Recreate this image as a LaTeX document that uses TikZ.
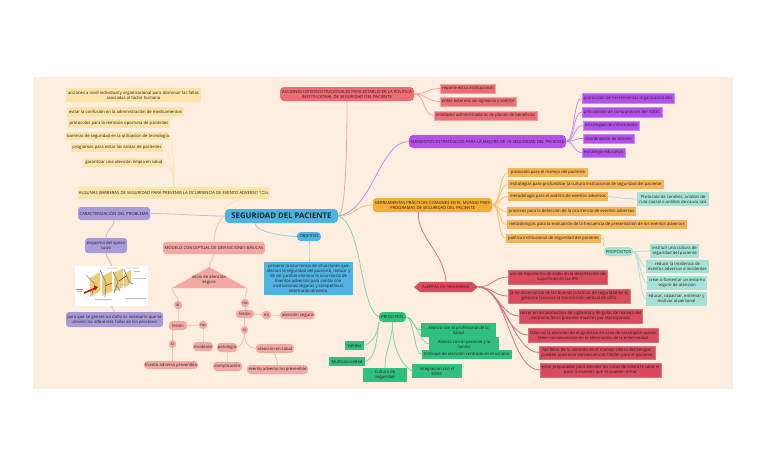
\documentclass[tikz,border=0pt]{standalone}
\usepackage{fontspec}
\setmainfont{Open Sans}
\usepackage{xcolor}
\definecolor{bgc}{HTML}{FEEEDF}
\definecolor{yel}{HTML}{FDE3A7}
\definecolor{yell}{HTML}{FBE6AE}
\definecolor{pur}{HTML}{A99BD9}
\definecolor{purl}{HTML}{CDB7DC}
\definecolor{rt}{HTML}{4CB4DF}
\definecolor{sal}{HTML}{F4A8A3}
\definecolor{sall}{HTML}{F2BDB4}
\definecolor{redb}{HTML}{EE6C73}
\definecolor{redl}{HTML}{EFA6A2}
\definecolor{vio}{HTML}{B650EC}
\definecolor{viol}{HTML}{C48BEE}
\definecolor{ora}{HTML}{F6AE32}
\definecolor{oral}{HTML}{F2BF70}
\definecolor{orb}{HTML}{F4B557}
\definecolor{tea}{HTML}{A5E2D6}
\definecolor{teal2}{HTML}{A9E2D6}
\definecolor{crim}{HTML}{D94A5D}
\definecolor{criml}{HTML}{D9707F}
\definecolor{gre}{HTML}{2FC07F}
\definecolor{grel}{HTML}{7FD5A5}
\definecolor{sky}{HTML}{4FB3E3}
\definecolor{skyl}{HTML}{9CCFE0}
\definecolor{txt}{HTML}{222222}
\definecolor{chs}{HTML}{E8CE6E}
\definecolor{chb}{HTML}{7C83B8}
\tikzset{
  base/.style={inner sep=0pt,outer sep=0pt,align=center,text=txt,font=\fontsize{4.2}{5}\selectfont},
  ybox/.style={base,fill=yel},
  pbox/.style={base,fill=pur,rounded corners=3pt},
  sbox/.style={base,fill=sal,rounded corners=3pt},
  spill/.style={base,fill=sal,rounded corners=3.5pt},
  rbox/.style={base,fill=redb,rounded corners=4pt},
  rsub/.style={base,fill=redb,draw=redl,line width=.6pt},
  vmain/.style={base,fill=vio,rounded corners=4pt},
  vsub/.style={base,fill=vio,draw=viol,line width=.6pt},
  omain/.style={base,fill=ora,rounded corners=3pt},
  osub/.style={base,fill=orb},
  tmain/.style={base,fill=tea,rounded corners=4pt},
  tsub/.style={base,fill=tea},
  csub/.style={base,fill=crim,draw=criml,line width=.6pt},
  gmain/.style={base,fill=gre,rounded corners=4pt},
  gsub/.style={base,fill=gre},
  sky1/.style={base,fill=sky,rounded corners=4pt},
  sky2/.style={base,fill=sky},
  lnY/.style={draw=yell,line width=.8pt},
  lnP/.style={draw=purl,line width=.8pt},
  lnS/.style={draw=sall,line width=.8pt},
  lnR/.style={draw=redl,line width=.8pt},
  lnV/.style={draw=viol,line width=.8pt},
  lnO/.style={draw=oral,line width=.8pt},
  lnT/.style={draw=teal2,line width=.8pt},
  lnC/.style={draw=criml,line width=.8pt},
  lnG/.style={draw=grel,line width=.8pt},
  lnB/.style={draw=skyl,line width=.8pt},
}
\newcommand\bx[7]{%
  \pgfmathsetmacro\mycx{(#2+#4)/2}\pgfmathsetmacro\mycy{(#3+#5)/2}%
  \pgfmathsetmacro\myw{#4-#2}\pgfmathsetmacro\myh{#5-#3}%
  \node[#6,minimum width=\myw pt,minimum height=\myh pt] (#1) at (\mycx,\mycy) {#7};}
\newcommand\hc[4]{\draw[#1] (#2) .. controls +(#4,0) and +(-#4,0) .. (#3);}
\newcommand\vc[4]{\draw[#1] (#2) .. controls +(0,#4) and +(0,-#4) .. (#3);}
\newcommand\vh[5]{\draw[#1] (#2) .. controls +(0,#3) and +(#4,0) .. (#5);}
\begin{document}
\begin{tikzpicture}[x=1pt,y=-1pt]
\useasboundingbox (0,0) rectangle (768,466);
\fill[white] (0,0) rectangle (768,466);
\fill[bgc] (33,77) rectangle (733,389);

% Yellow branch
\bx{a1}{66}{88}{201}{102}{ybox}{acciones a nivel individual y organizacional para disminuir las fallas\\asociadas al factor humano}
\bx{a2}{67}{107}{184}{117}{ybox}{evitar la confusión en la administración de medicamentos}
\bx{a3}{68}{119}{170}{128}{ybox}{protocolos para la remisión oportuna de pacientes}
\bx{a4}{66}{132}{170}{140}{ybox}{barreras de seguridad en la utilización de tecnología}
\bx{a5}{71}{143}{163}{152}{ybox}{programas para evitar las caídas de pacientes}
\bx{a6}{84}{158}{164}{167}{ybox}{garantizar una atención limpia en salud}
\bx{alg}{78}{187}{269}{199}{ybox}{ALGUNAS BARRERAS DE SEGURIDAD PARA PREVENIR LA OCURRENCIA DE EVENTO ADVERSO SON}
\coordinate (algt) at (174,187);

% Root
\bx{root}{225}{209}{338}{223}{base,fill=rt,rounded corners=4pt,font=\fontsize{7.8}{8}\selectfont\bfseries}{SEGURIDAD DEL PACIENTE}

% Purple
\bx{car}{78}{207}{150}{220}{pbox}{CARACTERIZACIÓN DEL PROBLEMA}
\bx{esq}{85}{238}{127}{253}{pbox}{esquema del queso\\suizo}
\bx{pq}{66}{312}{163}{327}{pbox}{para que se genere un daño es necesario que se\\alineen las diferentes fallas en los procesos}

% Swiss cheese picture
\node[fill=white,inner sep=0pt,outer sep=0pt,minimum width=73pt,minimum height=40pt] (pic) at (111.5,286) {};
\fill[chs] (90,278)--(100,272)--(100,291)--(90,297)--cycle;
\fill[chs] (102,276)--(112,271)--(112,291)--(102,296)--cycle;
\fill[chs] (114,273)--(123,268)--(123,287)--(114,292)--cycle;
\fill[chs] (124,274)--(131,270)--(131,283)--(124,288)--cycle;
\draw[chb,line width=.7pt] (86,275)--(95,284)--(92,294) (100,270)--(106,283)--(105,297) (113,272)--(118,282)--(114,293) (124,269)--(129,282)--(133,284) (120,291)--(116,285);
\draw[red!85!black,line width=1.5pt] (84,293)--(96,288);
\fill[red!85!black] (98,287)--(94,285.5)--(95,290)--cycle;
\draw[red!70!black,line width=.5pt] (105,286)--(112,283) (119,281)--(126,276);
\fill[gray!50] (106,267.5) rectangle (118,268.3) (126,267.5) rectangle (139,268.3) (134,271) rectangle (140,272) (133,278) rectangle (146,278.8) (120,284) rectangle (127,285) (95,299) rectangle (112,300) (125,298) rectangle (146,299) (77,291) rectangle (82,292);
\fill[red!60] (76,289) rectangle (83,290);

% Salmon model
\bx{mod}{163}{242}{265}{254}{sbox}{MODELO CONCEPTUAL DE DEFINICIONES BÁSICAS}
\coordinate (tt) at (209,267);
\coordinate (tl) at (172,288);
\coordinate (tr) at (247,288);
\fill[sal] (tt)--(tl)--(tr)--cycle;
\node[base] (tri) at (209,280) {inicio de atención\\segura};
\bx{sl}{174}{301}{182}{309}{spill}{si}
\bx{nr}{241}{299}{249}{307}{spill}{no}
\bx{lesl}{169}{321}{187}{330}{spill}{lesión}
\bx{nl}{199}{321}{207}{329}{spill}{no}
\bx{sl2}{169}{340}{176}{348}{spill}{si}
\bx{inc}{193}{342}{213}{351}{spill}{incidente}
\bx{evp}{144}{361}{198}{369}{spill}{Evento adverso prevenible}
\bx{lesr}{236}{310}{254}{318}{spill}{lesión}
\bx{nr2}{262}{311}{271}{319}{spill}{no}
\bx{ats}{280}{311}{315}{319}{spill}{atención segura}
\bx{sr}{241}{326}{248}{334}{spill}{si}
\bx{pat}{217}{343}{237}{352}{spill}{patología}
\bx{com}{213}{362}{242}{371}{spill}{complicación}
\bx{ate}{256}{344}{294}{353}{spill}{atención en salud}
\bx{evn}{247}{365}{308}{374}{spill}{evento adverso no prevenible}

% Objective
\bx{obj}{297}{232}{321}{241}{sky1}{OBJETIVO}
\bx{obt}{264}{262}{353}{295}{sky2}{prevenir la ocurrencia de situaciones que\\afectan la seguridad del paciente, reducir y\\de ser posible eliminar la ocurrencia de\\Eventos adversos para contar con\\instituciones seguras y competitivas\\internacionalmente.}

% Red
\bx{acc}{280}{87}{414}{101}{rbox}{ACCIONES INTERINSTITUCIONALES PARA ESTABLECER LA POLÍTICA\\INSTITUCIONAL DE SEGURIDAD DEL PACIENTE}
\bx{r1}{440}{84}{495}{93}{rsub}{reporte extra institucional}
\bx{r2}{440}{97}{516}{106}{rsub}{entes externos de vigilancia y control}
\bx{r3}{434}{111}{537}{120}{rsub}{entidades administradoras de planes de beneficios}

% Violet
\bx{ele}{409}{135}{566}{148}{vmain}{ELEMENTOS ESTRATÉGICOS PARA LA MEJORA DE LA SEGURIDAD DEL PACIENTE}
\bx{v1}{582}{93}{674}{103}{vsub}{promoción de herramientas organizacionales}
\bx{v2}{582}{107}{662}{117}{vsub}{articulación de componentes del SOGC}
\bx{v3}{583}{121}{639}{130}{vsub}{estrategias de información}
\bx{v4}{583}{134}{634}{143}{vsub}{coordinación de actores}
\bx{v5}{582}{148}{625}{157}{vsub}{estrategia educativa}

% Orange
\bx{her}{373}{198}{492}{212}{omain}{HERRAMIENTAS PRÁCTICAS COMUNES EN EL MUNDO PARA\\PROGRAMAS DE SEGURIDAD DEL PACIENTE}
\bx{o1}{508}{168}{588}{177}{osub}{protocolo para el manejo del paciente}
\bx{o2}{508}{180}{664}{189}{osub}{estrategias para profundizar la cultura institucional de seguridad del paciente}
\bx{o3}{508}{192}{608}{201}{osub}{metodología para el análisis de eventos adversos}
\bx{o4}{507}{207}{636}{216}{osub}{procesos para la detección de la ocurrencia de eventos adversos}
\bx{o5}{507}{220}{687}{229}{osub}{metodologías para la evaluación de la frecuencia de presentación de los eventos adversos}
\bx{o6}{506}{234}{601}{243}{osub}{política institucional de seguridad del paciente}
\bx{lon}{637}{192}{709}{206}{tsub}{Protocolo de Londres, análisis de\\ruta causal o análisis de causa raíz}

% Teal
\bx{pro}{604}{247}{633}{256}{tmain}{PROPÓSITOS}
\bx{t1}{650}{244}{699}{258}{tsub}{instituir una cultura de\\seguridad del paciente}
\bx{t2}{646}{260}{709}{273}{tsub}{reducir la incidencia de\\eventos adversos e incidentes}
\bx{t3}{647}{276}{707}{290}{tsub}{crear o fomentar un entorno\\seguro de atención}
\bx{t4}{646}{292}{707}{306}{tsub}{educar, capacitar, entrenar y\\motivar al personal}

% Alerts
\fill[crim] (414,287)--(420,282)--(472,282)--(478,287)--(472,292)--(420,292)--cycle;
\bx{ale}{414}{282}{478}{292}{base}{ALERTAS DE SEGURIDAD}
\bx{c1}{508}{270}{607}{284}{csub}{uso de hipoclorito de sodio en la desinfección de\\superficies en las IPS}
\bx{c2}{508}{289}{630}{303}{csub}{la no observancia de las buenas prácticas de seguridad en la\\gestante favorece la transmisión vertical de sífilis}
\bx{c3}{519}{309}{642}{323}{csub}{correr en los protocolos de vigilancia y de guías de manejo del\\síndrome febril previene muertes por leptospirosis}
\bx{c4}{528}{328}{658}{342}{csub}{fallas en la atención de diagnóstico en caso de sarampión puede\\tener consecuencias en la eliminación de la enfermedad}
\bx{c5}{539}{346}{655}{359}{csub}{las fallas de la atención en el manejo clínico del dengue\\pueden ocasionar consecuencias fatales para el paciente}
\bx{c6}{540}{363}{661}{377}{csub}{estar preparados para atender los casos de cólera le salva el\\paso a muertes que se pueden evitar}

% Green
\bx{pri}{379}{312}{406}{322}{gmain}{PRINCIPIOS}
\bx{g1}{421}{323}{496}{337}{gsub}{Alianza con el profesional de la\\Salud}
\bx{g2}{429}{337}{499}{351}{gsub}{Alianza con el paciente y la\\familia}
\bx{g3}{422}{350}{512}{359}{gsub}{Enfoque de atención centrada en el usuario}
\bx{g4}{345}{341}{364}{350}{gsub}{Validez}
\bx{g5}{329}{357}{365}{366}{gsub}{Multicausalidad}
\bx{g6}{363}{368}{407}{382}{gsub}{Cultura de\\seguridad}
\bx{g7}{412}{364}{462}{378}{gsub}{Integración con el\\SOGC}

% Connectors: yellow
\vh{lnY}{algt}{-16}{4}{a6.east}
\vh{lnY}{algt}{-20}{4}{a5.east}
\vh{lnY}{algt}{-28}{2}{a4.east}
\draw[lnY] (root.north west) .. controls +(-3,-6) and +(6,-6) .. (alg.east);
% purple
\hc{lnP}{car.east}{root.west}{25}
\vc{lnP}{car.south}{esq.north}{8}
\vc{lnP}{esq.south}{pic.north}{4}
\vc{lnP}{pic.south}{pq.north}{2}
% salmon
\draw[lnS] (root.west) .. controls +(-5,2) and +(0,-12) .. (mod.north);
\vc{lnS}{mod.south}{tt}{4}
\vc{lnS}{tl}{sl.north}{5}
\vc{lnS}{tr}{nr.north}{4}
\vc{lnS}{sl.south}{sl.south |- lesl.north}{3}
\vc{lnS}{nr.south}{nr.south |- lesr.north}{1}
\hc{lnS}{lesl.east}{nl.west}{3}
\vc{lnS}{nl.south}{inc.north}{4}
\vc{lnS}{sl2.north |- lesl.south}{sl2.north}{2}
\vc{lnS}{sl2.south}{sl2.south |- evp.north}{4}
\hc{lnS}{lesr.east}{nr2.west}{3}
\hc{lnS}{nr2.east}{ats.west}{3}
\vc{lnS}{sr.north |- lesr.south}{sr.north}{2}
\vh{lnS}{sr.south}{6}{3}{pat.east}
\vh{lnS}{sr.south}{10}{-6}{ate.west}
\vc{lnS}{pat.south}{pat.south |- com.north}{3}
\vc{lnS}{ate.south}{evn.north}{6}
% objective
\draw[lnB] ([xshift=-27pt]root.south) .. controls +(2,10) and +(-10,0) .. (obj.west);
\vc{lnB}{obj.south}{obj.south |- obt.north}{6}
% red
\draw[lnR] (root.east) .. controls +(8,0) and +(0,40) .. (acc.south);
\hc{lnR}{acc.east}{r1.west}{12}
\hc{lnR}{acc.east}{r2.west}{12}
\hc{lnR}{acc.east}{r3.west}{12}
% violet
\draw[lnV] (root.east) .. controls +(35,-5) and +(-30,0) .. (ele.west);
\hc{lnV}{ele.east}{v1.west}{9}
\hc{lnV}{ele.east}{v2.west}{9}
\hc{lnV}{ele.east}{v3.west}{9}
\hc{lnV}{ele.east}{v4.west}{9}
\hc{lnV}{ele.east}{v5.west}{9}
% orange
\hc{lnO}{root.east}{her.west}{18}
\hc{lnO}{her.east}{o1.west}{9}
\hc{lnO}{her.east}{o2.west}{9}
\hc{lnO}{her.east}{o3.west}{9}
\hc{lnO}{her.east}{o4.west}{9}
\hc{lnO}{her.east}{o5.west}{9}
\hc{lnO}{her.east}{o6.west}{9}
\draw[lnT] (o3.east) .. controls +(10,1) and +(-10,0) .. (lon.west);
\draw[lnO] (o6.east) .. controls +(6,0) and +(-2,-4) .. (pro.north west);
% teal
\hc{lnT}{pro.east}{t1.west}{6}
\hc{lnT}{pro.east}{t2.west}{6}
\hc{lnT}{pro.east}{t3.west}{6}
\hc{lnT}{pro.east}{t4.west}{6}
% crimson
\draw[lnC] ([xshift=-14pt]her.south) .. controls +(-2,25) and +(-2,-30) .. (ale.north);
\hc{lnC}{ale.east}{c1.west}{14}
\hc{lnC}{ale.east}{c2.west}{14}
\hc{lnC}{ale.east}{c3.west}{18}
\hc{lnC}{ale.east}{c4.west}{22}
\hc{lnC}{ale.east}{c5.west}{26}
\hc{lnC}{ale.east}{c6.west}{30}
% green
\draw[lnG] (root.east) .. controls +(25,8) and +(-20,-10) .. (pri.west);
\hc{lnG}{pri.east}{g1.west}{8}
\hc{lnG}{pri.east}{g2.west}{8}
\hc{lnG}{pri.east}{g3.west}{8}
\draw[lnG] (pri.south west) .. controls +(-2,14) and +(8,-3) .. (g4.east);
\draw[lnG] (pri.south west) .. controls +(-3,24) and +(10,-3) .. (g5.east);
\vc{lnG}{pri.south}{g6.north}{18}
\draw[lnG] (pri.south) .. controls +(0,28) and +(-10,-6) .. (g7.west);
\end{tikzpicture}
\end{document}
